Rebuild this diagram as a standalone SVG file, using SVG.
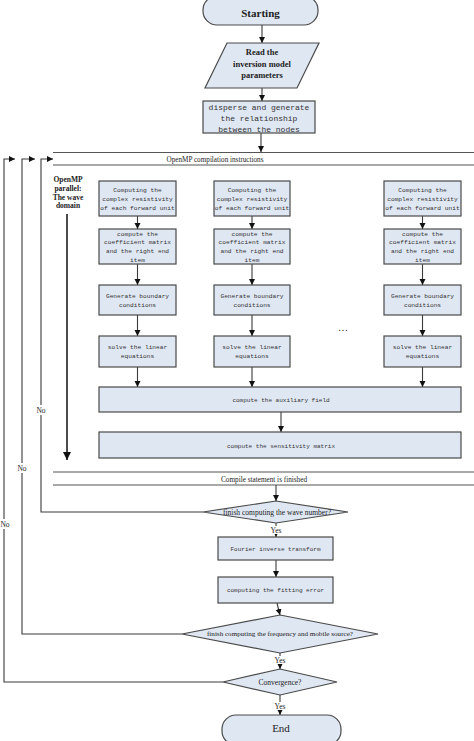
<svg xmlns="http://www.w3.org/2000/svg" width="474" height="741" viewBox="0 0 474 741">
<defs>
<style>
.box{fill:#dfe7f3;stroke:#4a4a4a;stroke-width:1.2}
.ln{fill:none;stroke:#3a3a3a;stroke-width:1.1}
.band{stroke:#555;stroke-width:1.2}
.mono{font-family:"Liberation Mono","DejaVu Sans Mono",monospace;fill:#333;text-anchor:middle}
.col{font-size:6.2px}
.serif{font-family:"Liberation Serif","Times New Roman",serif;fill:#222;text-anchor:middle}
.lbl{font-family:"Liberation Serif","Times New Roman",serif;fill:#222;font-size:7.5px;text-anchor:middle}
</style>
<marker id="ah" markerUnits="userSpaceOnUse" markerWidth="7" markerHeight="7" refX="6" refY="3" orient="auto">
<path d="M0,0 L6,3 L0,6 z" fill="#111"/>
</marker>
<marker id="bh" markerUnits="userSpaceOnUse" markerWidth="9" markerHeight="9" refX="8" refY="4" orient="auto">
<path d="M0,0 L8,4 L0,8 z" fill="#111"/>
</marker>
</defs>
<rect width="474" height="741" fill="#fff"/>

<g id="connectors">
<line class="ln" x1="262" y1="25" x2="262" y2="43" marker-end="url(#ah)"/>
<line class="ln" x1="262" y1="88" x2="262" y2="101" marker-end="url(#ah)"/>
<line class="ln" x1="261" y1="133" x2="261" y2="152" marker-end="url(#ah)"/>
<line class="ln" x1="137.5" y1="216" x2="137.5" y2="229" marker-end="url(#ah)"/>
<line class="ln" x1="137.5" y1="264" x2="137.5" y2="285" marker-end="url(#ah)"/>
<line class="ln" x1="137.5" y1="315" x2="137.5" y2="336" marker-end="url(#ah)"/>
<line class="ln" x1="137.5" y1="367" x2="137.5" y2="387" marker-end="url(#ah)"/>
<line class="ln" x1="252" y1="216" x2="252" y2="229" marker-end="url(#ah)"/>
<line class="ln" x1="252" y1="264" x2="252" y2="285" marker-end="url(#ah)"/>
<line class="ln" x1="252" y1="315" x2="252" y2="336" marker-end="url(#ah)"/>
<line class="ln" x1="252" y1="367" x2="252" y2="387" marker-end="url(#ah)"/>
<line class="ln" x1="422.5" y1="216" x2="422.5" y2="229" marker-end="url(#ah)"/>
<line class="ln" x1="422.5" y1="264" x2="422.5" y2="285" marker-end="url(#ah)"/>
<line class="ln" x1="422.5" y1="315" x2="422.5" y2="336" marker-end="url(#ah)"/>
<line class="ln" x1="422.5" y1="367" x2="422.5" y2="387" marker-end="url(#ah)"/>
<line class="ln" x1="281" y1="412" x2="281" y2="432" marker-end="url(#ah)"/>
<line x1="67" y1="214" x2="67" y2="460" stroke="#111" stroke-width="1.5" marker-end="url(#bh)"/>
<line class="ln" x1="276" y1="485" x2="276" y2="501" marker-end="url(#ah)"/>
<line class="ln" x1="276" y1="523" x2="276" y2="537" marker-end="url(#ah)"/>
<line class="ln" x1="276" y1="560" x2="276" y2="577" marker-end="url(#ah)"/>
<line class="ln" x1="277" y1="603" x2="280" y2="615" marker-end="url(#ah)"/>
<line class="ln" x1="280" y1="653" x2="280" y2="669" marker-end="url(#ah)"/>
<line class="ln" x1="280" y1="695" x2="280" y2="715" marker-end="url(#ah)"/>
<polyline class="ln" points="203,512 41,512 41,159 53,159" marker-end="url(#ah)"/>
<polyline class="ln" points="182,634 22,634 22,159 35,159" marker-end="url(#ah)"/>
<polyline class="ln" points="223,682 4,682 4,159 15,159" marker-end="url(#ah)"/>
<rect x="35" y="405" width="12" height="10" fill="#fff"/>
<text class="lbl" x="41" y="413">No</text>
<rect x="16" y="463" width="12" height="10" fill="#fff"/>
<text class="lbl" x="22" y="471">No</text>
<rect x="0" y="519" width="11" height="10" fill="#fff"/>
<text class="lbl" x="5" y="527">No</text>
<rect x="270" y="526" width="12" height="8" fill="#fff"/>
<text class="lbl" x="276" y="533">Yes</text>
<rect x="274" y="656" width="12" height="8" fill="#fff"/>
<text class="lbl" x="280" y="663">Yes</text>
<rect x="274" y="702" width="12" height="8" fill="#fff"/>
<text class="lbl" x="280" y="709">Yes</text>
</g>

<g id="start">
<rect class="box" x="203" y="-4" width="115" height="29" rx="14"/>
<text class="serif" x="260.5" y="17" font-size="11" font-weight="bold">Starting</text>
</g>

<g id="read">
<polygon class="box" points="227,43 319,43 297,88 205,88"/>
<text class="serif" x="262" y="55" font-size="8.5" font-weight="bold">Read the</text>
<text class="serif" x="262" y="66.5" font-size="8.5" font-weight="bold">inversion model</text>
<text class="serif" x="262" y="78" font-size="8.5" font-weight="bold">parameters</text>
</g>

<g id="disperse">
<rect class="box" x="203" y="101" width="112" height="32"/>
<text class="mono" x="259" y="110" font-size="8">disperse and generate</text>
<text class="mono" x="259" y="121" font-size="8">the relationship</text>
<text class="mono" x="259" y="132" font-size="8">between the nodes</text>
</g>

<g id="openmp-band">
<line class="band" x1="53" y1="152.5" x2="474" y2="152.5"/>
<line class="band" x1="53" y1="165" x2="474" y2="165"/>
<text class="serif" x="215" y="161.5" font-size="7.5" text-anchor="start" textLength="97" lengthAdjust="spacingAndGlyphs">OpenMP compilation instructions</text>
</g>

<g id="parallel-label">
<text class="serif" x="68" y="182" font-size="7.5" font-weight="bold">OpenMP</text>
<text class="serif" x="68" y="191" font-size="7.5" font-weight="bold">parallel:</text>
<text class="serif" x="68" y="199.5" font-size="7.5" font-weight="bold">The wave</text>
<text class="serif" x="68" y="208" font-size="7.5" font-weight="bold">domain</text>
</g>

<g id="col1-resistivity">
<rect class="box" x="99" y="181" width="77" height="35"/>
<text class="mono col" x="137.5" y="192">Computing the</text>
<text class="mono col" x="137.5" y="201">complex resistivity</text>
<text class="mono col" x="137.5" y="210">of each forward unit</text>
</g>
<g id="col1-matrix">
<rect class="box" x="99" y="229" width="77" height="35"/>
<text class="mono col" x="137.5" y="235.5">compute the</text>
<text class="mono col" x="137.5" y="244">coefficient matrix</text>
<text class="mono col" x="137.5" y="252.5">and the right end</text>
<text class="mono col" x="137.5" y="261.5">item</text>
</g>
<g id="col1-boundary">
<rect class="box" x="99" y="285" width="77" height="30"/>
<text class="mono col" x="137.5" y="298">Generate boundary</text>
<text class="mono col" x="137.5" y="306.5">conditions</text>
</g>
<g id="col1-solve">
<rect class="box" x="99" y="336" width="77" height="31"/>
<text class="mono col" x="137.5" y="349">solve the linear</text>
<text class="mono col" x="137.5" y="358">equations</text>
</g>

<g id="col2-resistivity">
<rect class="box" x="214" y="181" width="76" height="35"/>
<text class="mono col" x="252" y="192">Computing the</text>
<text class="mono col" x="252" y="201">complex resistivity</text>
<text class="mono col" x="252" y="210">of each forward unit</text>
</g>
<g id="col2-matrix">
<rect class="box" x="214" y="229" width="76" height="35"/>
<text class="mono col" x="252" y="235.5">compute the</text>
<text class="mono col" x="252" y="244">coefficient matrix</text>
<text class="mono col" x="252" y="252.5">and the right end</text>
<text class="mono col" x="252" y="261.5">item</text>
</g>
<g id="col2-boundary">
<rect class="box" x="214" y="285" width="76" height="30"/>
<text class="mono col" x="252" y="298">Generate boundary</text>
<text class="mono col" x="252" y="306.5">conditions</text>
</g>
<g id="col2-solve">
<rect class="box" x="214" y="336" width="76" height="31"/>
<text class="mono col" x="252" y="349">solve the linear</text>
<text class="mono col" x="252" y="358">equations</text>
</g>

<g id="ellipsis">
<text class="serif" x="343" y="331" font-size="10">…</text>
</g>

<g id="col3-resistivity">
<rect class="box" x="384" y="181" width="77" height="35"/>
<text class="mono col" x="422.5" y="192">Computing the</text>
<text class="mono col" x="422.5" y="201">complex resistivity</text>
<text class="mono col" x="422.5" y="210">of each forward unit</text>
</g>
<g id="col3-matrix">
<rect class="box" x="384" y="229" width="77" height="35"/>
<text class="mono col" x="422.5" y="235.5">compute the</text>
<text class="mono col" x="422.5" y="244">coefficient matrix</text>
<text class="mono col" x="422.5" y="252.5">and the right end</text>
<text class="mono col" x="422.5" y="261.5">item</text>
</g>
<g id="col3-boundary">
<rect class="box" x="384" y="285" width="77" height="30"/>
<text class="mono col" x="422.5" y="298">Generate boundary</text>
<text class="mono col" x="422.5" y="306.5">conditions</text>
</g>
<g id="col3-solve">
<rect class="box" x="384" y="336" width="77" height="31"/>
<text class="mono col" x="422.5" y="349">solve the linear</text>
<text class="mono col" x="422.5" y="358">equations</text>
</g>

<g id="auxiliary">
<rect class="box" x="99" y="387" width="362" height="25"/>
<text class="mono" x="281" y="402" font-size="6">compute the auxiliary field</text>
</g>
<g id="sensitivity">
<rect class="box" x="99" y="432" width="362" height="26"/>
<text class="mono" x="281" y="447.5" font-size="6">compute the sensitivity matrix</text>
</g>

<g id="compile-band">
<line class="band" x1="53" y1="472" x2="474" y2="472"/>
<line class="band" x1="53" y1="485" x2="474" y2="485"/>
<text class="serif" x="264" y="481.5" font-size="7.5" textLength="86" lengthAdjust="spacingAndGlyphs">Compile statement is finished</text>
</g>

<g id="wave-decision">
<polygon class="box" points="276,501 348,512 276,523 203,512"/>
<text class="serif" x="277" y="514.5" font-size="7.5" textLength="108" lengthAdjust="spacingAndGlyphs">finish computing the wave number?</text>
</g>

<g id="fourier">
<rect class="box" x="218" y="537" width="115" height="23"/>
<text class="mono" x="275.5" y="550.5" font-size="6">Fourier inverse transform</text>
</g>

<g id="fitting">
<rect class="box" x="218" y="577" width="115" height="26"/>
<text class="mono" x="275.5" y="592" font-size="6">computing the fitting error</text>
</g>

<g id="freq-decision">
<polygon class="box" points="280,615 378,634 280,653 182,634"/>
<text class="serif" x="280" y="636" font-size="6.8" textLength="146" lengthAdjust="spacingAndGlyphs">finish computing the frequency and mobile source?</text>
</g>

<g id="convergence">
<polygon class="box" points="280,669 337,682 280,695 223,682"/>
<text class="serif" x="280" y="684.5" font-size="7.5">Convergence?</text>
</g>

<g id="end">
<rect class="box" x="222" y="715" width="119" height="30" rx="14"/>
<text class="serif" x="281" y="732" font-size="11">End</text>
</g>
</svg>
